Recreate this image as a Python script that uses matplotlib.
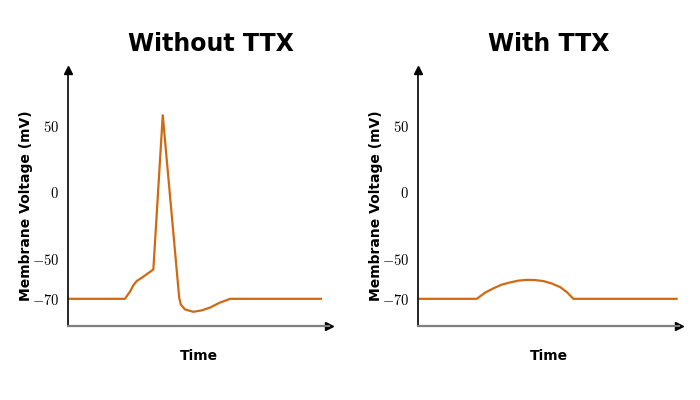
import numpy as np
import matplotlib
matplotlib.use("Agg")
import matplotlib.pyplot as plt

plt.rcParams['mathtext.fontset'] = 'cm'
plt.rcParams['font.family'] = ['DejaVu Sans']

# ---- data (time in arbitrary units, voltage in mV) ----
t_without = [0.0, 2.18, 2.38, 2.50, 2.63, 2.82, 3.27, 3.63, 4.26, 4.32, 4.48,
             4.80, 5.12, 5.44, 5.82, 6.14, 6.21, 9.73]
v_without = [-70, -70, -66.3, -63.3, -61.1, -59.5, -55.3, 58.0, -69.4, -72.8,
             -75.3, -76.5, -75.8, -74.4, -71.9, -70.4, -70, -70]

t_with = [0.0, 2.24, 2.56, 2.87, 3.19, 3.51, 3.83, 4.15, 4.47, 4.79, 5.11,
          5.43, 5.69, 5.94, 9.94]
v_with = [-70, -70, -66.9, -64.8, -62.9, -61.8, -60.9, -60.5, -60.6, -61.1,
          -62.3, -64.1, -66.6, -70, -70]

titles = ["Without TTX", "With TTX"]
ytick_vals = [50, 0, -50, -70]
ytick_labels = ["$50$", "$0$", "$-50$", "$-70$"]
xlabel = "Time"
ylabel = "Membrane Voltage (mV)"

line_color = "#d06a12"

# piecewise-linear voltage scale (region below -50 mV is stretched)
def fwd(v):
    v = np.asarray(v, dtype=float)
    return np.where(v >= -50, v, -50 + (v + 50) * 1.5)

def inv(t):
    t = np.asarray(t, dtype=float)
    return np.where(t >= -50, t, -50 + (t + 50) / 1.5)

fig = plt.figure(figsize=(7, 4), dpi=100)
W, H = 700, 400
ax_w = 261 / W
ax_b = (400 - 325.7) / H
ax_h = (325.7 - 70) / H
lefts = [68 / W, 418.3 / W]
title_x = [0.547, 0.5]
series = [(t_without, v_without), (t_with, v_with)]

for left, title, tx_pos, (tx, vy) in zip(lefts, titles, title_x, series):
    ax = fig.add_axes([left, ax_b, ax_w, ax_h])
    ax.set_yscale('function', functions=(fwd, inv))
    ax.plot(tx, vy, color=line_color, lw=1.6, solid_capstyle='butt')
    ax.set_xlim(0, 10)
    ax.set_ylim(float(inv(-100.2)), 92)
    ax.set_yticks(ytick_vals)
    ax.set_yticklabels(ytick_labels, fontsize=10.5)
    ax.yaxis.set_minor_locator(matplotlib.ticker.NullLocator())
    ax.tick_params(axis='y', length=0, pad=6.5)
    ax.set_xticks([])
    for s in ['top', 'right']:
        ax.spines[s].set_visible(False)
    ax.spines['left'].set_color('black')
    ax.spines['left'].set_linewidth(1.2)
    ax.spines['bottom'].set_color('#7f7f7f')
    ax.spines['bottom'].set_linewidth(1.6)
    ax.plot(1, 0, ">", color='black', ms=6, transform=ax.transAxes, clip_on=False)
    ax.plot(0, 1, "^", color='black', ms=6, transform=ax.transAxes, clip_on=False)
    ax.set_xlabel(xlabel, fontsize=10, fontweight='bold', labelpad=17)
    ax.set_ylabel(ylabel, fontsize=10, fontweight='bold')
    ax.yaxis.set_label_coords(-0.136, 0.468)
    ax.set_title(title, fontsize=17, fontweight='bold', pad=13.5, x=tx_pos)

fig.savefig("out.png", dpi=100)
